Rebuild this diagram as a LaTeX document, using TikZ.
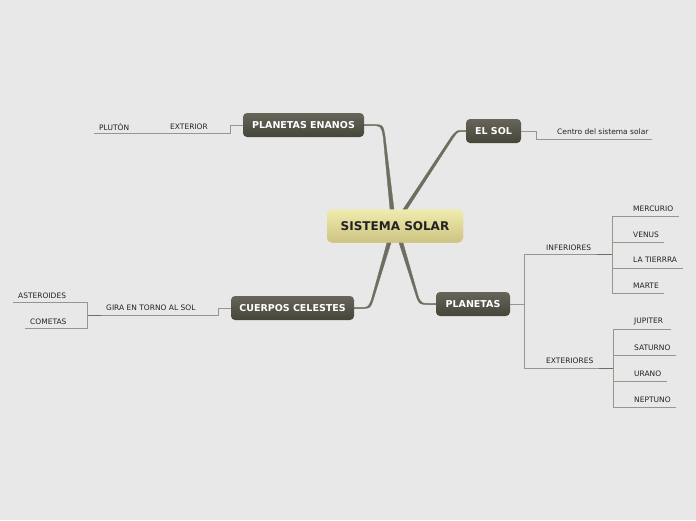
\documentclass[tikz,border=0pt]{standalone}
\usepackage{fontspec}
\setmainfont{DejaVu Sans}
\usetikzlibrary{calc}
\definecolor{bg}{HTML}{E8E8E8}
\definecolor{trunkc}{HTML}{6F6D60}
\definecolor{branchc}{HTML}{97968C}
\definecolor{branchd}{HTML}{6F6D60}
\definecolor{topA}{HTML}{67655A}
\definecolor{topB}{HTML}{46453A}
\definecolor{yelA}{HTML}{F0EBAE}
\definecolor{yelB}{HTML}{CDC381}
\definecolor{txt}{HTML}{222222}
\tikzset{
  mainbox/.style={rounded corners=5pt, top color=yelA, bottom color=yelB, draw=none,
    minimum width=136pt, minimum height=33pt, inner sep=0pt, text=txt,
    font=\bfseries\fontsize{12}{14}\selectfont},
  topic/.style={rounded corners=4pt, top color=topA, bottom color=topB, draw=none,
    minimum height=24pt, inner sep=0pt, text=white,
    font=\bfseries\fontsize{9.5}{11}\selectfont},
  leaf/.style={anchor=west, inner sep=0pt, yshift=-1pt, text=txt, font=\fontsize{7.5}{9}\selectfont},
  trunk/.style={fill=trunkc, draw=trunkc, line width=0.3pt},
  branch/.style={draw=branchc, line width=0.9pt},
  branchdark/.style={draw=branchd, line width=1pt},
}
\begin{document}
\begin{tikzpicture}[x=1pt,y=-1pt]
\fill[bg] (0,0) rectangle (696,520);
\useasboundingbox (0,0) rectangle (696,520);

% main nodes
\node[mainbox] (ss) at (395,226) {SISTEMA SOLAR};
\node[topic, minimum width=121pt] (pe) at (303.5,125) {PLANETAS ENANOS};
\node[topic, minimum width=55pt] (sol) at (493.5,131) {EL SOL};
\node[topic, minimum width=123pt] (cc) at (292.5,308) {CUERPOS CELESTES};
\node[topic, minimum width=74pt] (pl) at (473,304) {PLANETAS};

% tapered trunks
\fill[trunk] ($(ss.north)+(-5,0)$) -- ($(pe.east)+(19,12)$)
  .. controls ($(pe.east)+(17,0.6)$) .. ($(pe.east)+(6,0.6)$) -- ($(pe.east)+(0,0.6)$)
  -- ($(pe.east)+(0,-0.6)$) -- ($(pe.east)+(6,-0.6)$)
  .. controls ($(pe.east)+(19,-0.6)$) .. ($(pe.east)+(21,12)$)
  -- ($(ss.north)+(-1,0)$) -- cycle;
\fill[trunk] ($(ss.north)+(8,0)$) -- ($(sol.west)+(-14,5)$)
  .. controls ($(sol.west)+(-9,-0.6)$) .. ($(sol.west)+(-4,-0.6)$) -- ($(sol.west)+(0,-0.6)$)
  -- ($(sol.west)+(0,0.6)$) -- ($(sol.west)+(-4,0.6)$)
  .. controls ($(sol.west)+(-8,0.8)$) .. ($(sol.west)+(-12,6)$)
  -- ($(ss.north)+(12,0)$) -- cycle;
\fill[trunk] ($(ss.south)+(-8,0)$) -- ($(cc.east)+(17,-8)$)
  .. controls ($(cc.east)+(14,-0.6)$) .. ($(cc.east)+(6,-0.6)$) -- ($(cc.east)+(0,-0.6)$)
  -- ($(cc.east)+(0,0.6)$) -- ($(cc.east)+(6,0.6)$)
  .. controls ($(cc.east)+(16,0.6)$) .. ($(cc.east)+(19,-8)$)
  -- ($(ss.south)+(-4,0)$) -- cycle;
\fill[trunk] ($(ss.south)+(4,0)$) -- ($(pl.west)+(-19,-6)$)
  .. controls ($(pl.west)+(-16,0.6)$) .. ($(pl.west)+(-6,0.6)$) -- ($(pl.west)+(0,0.6)$)
  -- ($(pl.west)+(0,-0.6)$) -- ($(pl.west)+(-6,-0.6)$)
  .. controls ($(pl.west)+(-14,-0.6)$) .. ($(pl.west)+(-17,-6)$)
  -- ($(ss.south)+(8,0)$) -- cycle;

% redraw main box on top
\node[mainbox] at (ss) {SISTEMA SOLAR};

% ---- PLANETAS ENANOS branch
\node[leaf] (ext) at (170,126) {EXTERIOR};
\node[leaf] (plu) at (99,126) {PLUTÒN};
\coordinate (peA) at (230,125);
\coordinate (peB) at (230,133);
\coordinate (pluE) at (94,133);
\draw[branch] (pe.west) -- (peA) -- (peB) -- (pluE);

% ---- EL SOL branch
\node[leaf] (cen) at (557,131) {Centro del sistema solar};
\coordinate (solA) at (536,131);
\coordinate (solB) at (536,139);
\coordinate (solE) at (652,139);
\draw[branch] (sol.east) -- (solA) -- (solB) -- (solE);

% ---- CUERPOS CELESTES branch
\node[leaf] (gira) at (106,307) {GIRA EN TORNO AL SOL};
\node[leaf] (ast) at (18,295) {ASTEROIDES};
\node[leaf] (com) at (30,321) {COMETAS};
\coordinate (ccA) at (218,308);
\coordinate (ccB) at (218,315);
\coordinate (giraJ) at (87,315);
\coordinate (astJ) at (87,302);
\coordinate (astE) at (13,302);
\coordinate (comJ) at (87,328);
\coordinate (comE) at (25,328);
\draw[branch] (cc.west) -- (ccA) -- (ccB) -- (giraJ);
\draw[branchdark] (giraJ) -- ++(14,0);
\draw[branch] (astE) -- (astJ) -- (comJ) -- (comE);

% ---- PLANETAS branch
\coordinate (plA) at (524,304);
\coordinate (infJ) at (524,254);
\coordinate (extJ) at (524,368);
\draw[branch] (pl.east) -- (plA);
\draw[branch] (infJ) -- (extJ);
\node[leaf] (inf) at (546,247) {INFERIORES};
\node[leaf] (exts) at (546,360) {EXTERIORES};
\coordinate (infK) at (612,254);
\coordinate (extK) at (614,368);
\draw[branch] (infJ) -- (infK);
\draw[branchdark] ($(infK)+(-15,0)$) -- (infK);
\draw[branch] (extJ) -- (extK);
\draw[branchdark] ($(extK)+(-15,0)$) -- (extK);

% inferiores
\node[leaf] (mer) at (633,208) {MERCURIO};
\node[leaf] (ven) at (633,234) {VENUS};
\node[leaf] (tie) at (633,259) {LA TIERRRA};
\node[leaf] (mar) at (633,285) {MARTE};
\coordinate (merJ) at (612,216);
\coordinate (merE) at (679,216);
\coordinate (venJ) at (612,242);
\coordinate (venE) at (664,242);
\coordinate (tieJ) at (612,268);
\coordinate (tieE) at (683,268);
\coordinate (marJ) at (612,293);
\coordinate (marE) at (664,293);
\draw[branch] (merE) -- (merJ) -- (marJ) -- (marE);
\draw[branch] (venJ) -- (venE);
\draw[branch] (tieJ) -- (tieE);

% exteriores
\node[leaf] (jup) at (634,321) {JUPITER};
\node[leaf] (sat) at (634,347) {SATURNO};
\node[leaf] (ura) at (634,373) {URANO};
\node[leaf] (nep) at (634,399) {NEPTUNO};
\coordinate (jupJ) at (613,329);
\coordinate (jupE) at (671,329);
\coordinate (satJ) at (613,355);
\coordinate (satE) at (676,355);
\coordinate (uraJ) at (613,381);
\coordinate (uraE) at (667,381);
\coordinate (nepJ) at (613,407);
\coordinate (nepE) at (676,407);
\draw[branch] (jupE) -- (jupJ) -- (nepJ) -- (nepE);
\draw[branch] (satJ) -- (satE);
\draw[branch] (uraJ) -- (uraE);
\end{tikzpicture}
\end{document}
